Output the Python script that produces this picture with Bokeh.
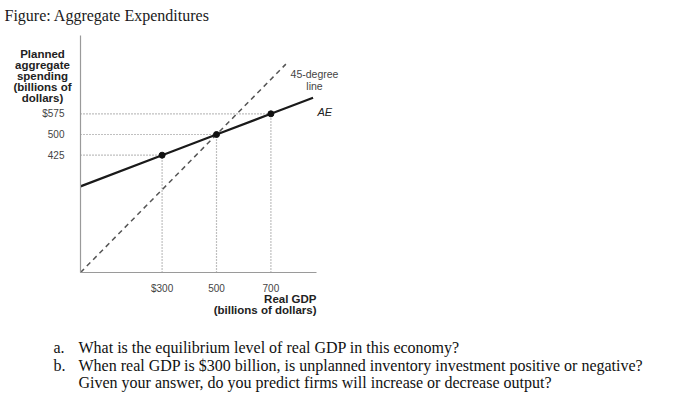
from bokeh.plotting import figure
from bokeh.models import Range1d, FixedTicker, Label, ColumnDataSource
from bokeh.embed import file_html
from bokeh.resources import INLINE

# ---- data ----
gdp = [300, 500, 700]                 # real GDP (billions)
planned = [425, 500, 575]             # planned aggregate spending (billions)
x_tick_labels = ["$300", "500", "700"]
y_tick_labels = ["425", "500", "$575"]
ae_line_x = [0, 300, 500, 700, 855]
ae_line_y = [312, 425, 500, 575, 633]
deg45_x = [0, 755]
deg45_y = [0, 755]
x_axis_extent = (0, 868)
y_axis_extent = (0, 859)

SANS = "Liberation Sans"
SERIF = "Liberation Serif"
W, H = 700, 393

# scales: 0.272 px per unit in x (origin at px 80), 0.276 px per unit in y (origin at px 272)
KX, KY, OX, OY = 0.272, 0.276, 80, 272
p = figure(width=W, height=H, output_backend="svg", toolbar_location=None, title=None,
           x_range=Range1d(-OX / KX, (W - OX) / KX),
           y_range=Range1d(-(H - OY) / KY, OY / KY),
           min_border=0)
p.outline_line_color = None
p.xgrid.grid_line_color = None
p.ygrid.grid_line_color = None
p.background_fill_color = "white"

for ax in (p.xaxis[0], p.yaxis[0]):
    ax.fixed_location = 0
    ax.axis_line_color = "#9a9a9a"
    ax.axis_line_width = 1.2
    ax.major_tick_line_color = None
    ax.minor_tick_line_color = None
    ax.major_label_text_font = SANS
    ax.major_label_text_font_size = "10px"
    ax.major_label_text_color = "#444444"

p.xaxis[0].bounds = x_axis_extent
p.yaxis[0].bounds = y_axis_extent
p.xaxis[0].ticker = FixedTicker(ticks=gdp)
p.xaxis[0].major_label_overrides = {g: t for g, t in zip(gdp, x_tick_labels)}
p.xaxis[0].major_label_standoff = 4
p.yaxis[0].ticker = FixedTicker(ticks=sorted(planned))
p.yaxis[0].major_label_overrides = {v: t for v, t in zip(sorted(planned), y_tick_labels)}
p.yaxis[0].major_label_standoff = 10

# dotted guide lines
guides = ColumnDataSource(dict(x=gdp, y=planned, zero=[0] * len(gdp)))
p.segment(x0="zero", y0="y", x1="x", y1="y", source=guides,
          line_color="#808080", line_width=1.2, line_dash="1 2")
p.segment(x0="x", y0="zero", x1="x", y1="y", source=guides,
          line_color="#808080", line_width=1.2, line_dash="1 2")

# 45-degree line
p.line(deg45_x, deg45_y, line_color="#555555", line_width=1.5, line_dash="5 4")
# AE line
p.line(ae_line_x, ae_line_y, line_color="#1a1a1a", line_width=2.2)
p.scatter(gdp, planned, size=6, color="#111111")


def lab(text, rx, ry, font=SANS, size="11.5px", align="left", style="normal", color="#222222"):
    p.add_layout(Label(x=rx, y=ry, x_units="canvas", y_units="canvas", text=text,
                       text_font=font, text_font_size=size, text_align=align,
                       text_baseline="alphabetic", text_font_style=style, text_color=color))


lab("Figure: Aggregate Expenditures", 4, 15, font=SERIF, size="16px", color="#1a1a1a")

ylab = ["Planned", "aggregate", "spending", "(billions of", "dollars)"]
for i, t in enumerate(ylab):
    lab(t, 42, 53 + 11 * i, align="center", style="bold")

lab("Real GDP", 316, 298, align="right", style="bold")
lab("(billions of dollars)", 316, 309, align="right", style="bold")

lab("45-degree", 314, 73, size="10.5px", align="center", color="#444444")
lab("line", 314, 85, size="10.5px", align="center", color="#444444")
lab("AE", 317, 111, size="11px", style="italic", color="#222222")

Q = "16px"
lab("a.", 53, 347, font=SERIF, size=Q, color="#111111")
lab("What is the equilibrium level of real GDP in this economy?", 78, 347, font=SERIF, size=Q, color="#111111")
lab("b.", 53, 365, font=SERIF, size=Q, color="#111111")
lab("When real GDP is $300 billion, is unplanned inventory investment positive or negative?", 78, 365,
    font=SERIF, size=Q, color="#111111")
lab("Given your answer, do you predict firms will increase or decrease output?", 78, 382,
    font=SERIF, size=Q, color="#111111")

open("out.html", "w").write(file_html(p, INLINE))
